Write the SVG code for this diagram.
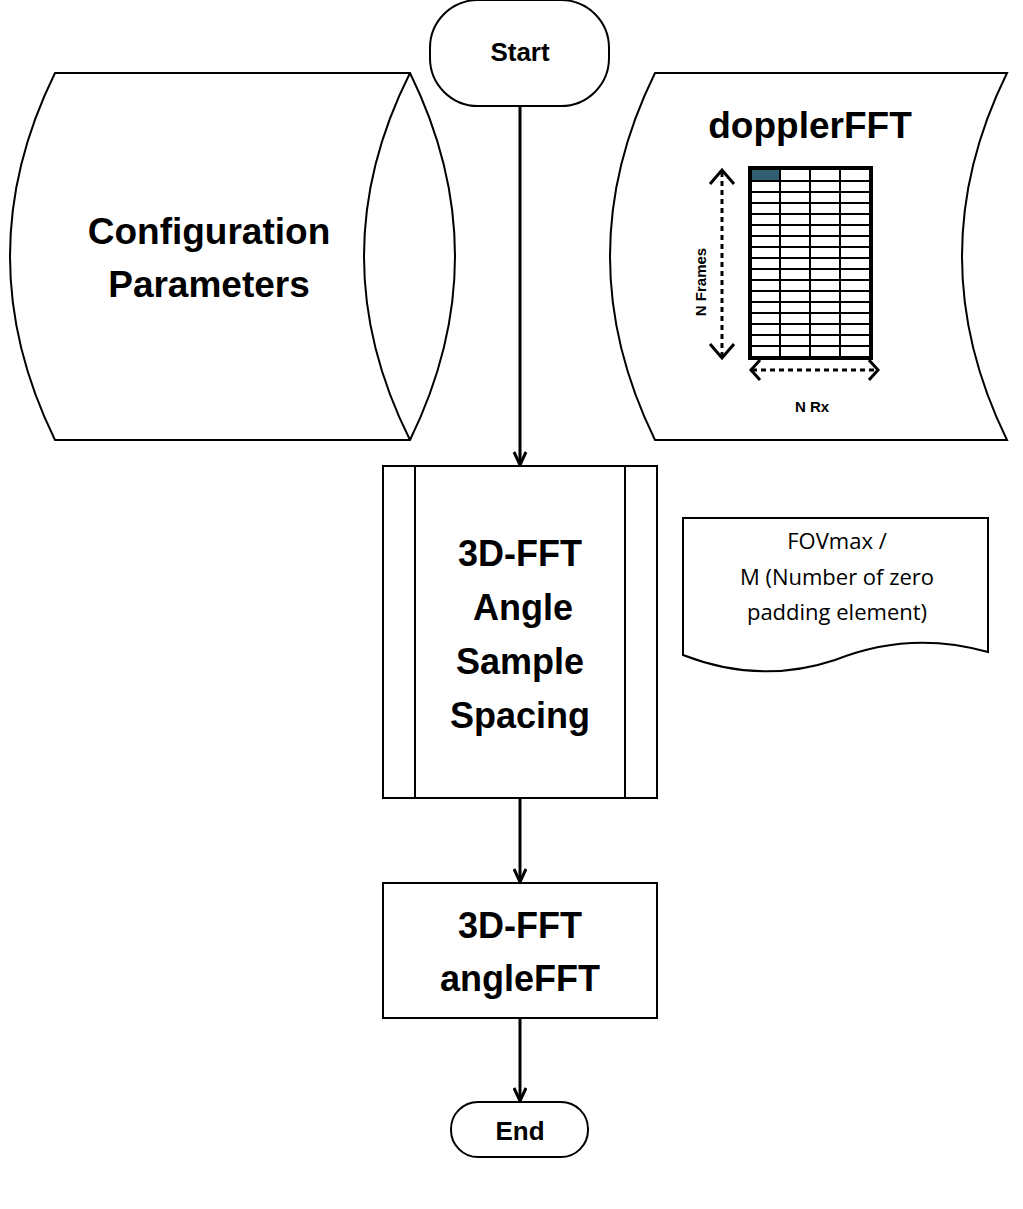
<svg xmlns="http://www.w3.org/2000/svg" width="1023" height="1209" viewBox="0 0 1023 1209">
<style>
.s{fill:#fff;stroke:#000;stroke-width:2}
.t{font-family:"Liberation Sans",Arial,sans-serif;font-weight:bold;text-anchor:middle;fill:#000}
.n{font-family:"Open Sans","Liberation Sans",sans-serif;text-anchor:middle;fill:#000;font-size:22px}
.c{fill:none;stroke:#000;stroke-width:3}
.g{stroke:#000;stroke-width:2}
</style>
<defs>
<marker id="a" markerWidth="20" markerHeight="14" refX="14" refY="7" orient="auto" markerUnits="userSpaceOnUse"><path d="M1,1 L14,7 L1,13" fill="none" stroke="#000" stroke-width="3"/></marker>
</defs>
<rect width="1023" height="1209" fill="#fff"/>
<g id="connectors">
<line class="c" x1="520" y1="106" x2="520" y2="465" marker-end="url(#a)"/>
<line class="c" x1="520" y1="798" x2="520" y2="882" marker-end="url(#a)"/>
<line class="c" x1="520" y1="1018" x2="520" y2="1101" marker-end="url(#a)"/>
</g>
<g id="start"><rect class="s" x="430" y="0" width="179" height="106" rx="48"/><text class="t" x="520" y="61" font-size="26">Start</text></g>
<g id="config">
<path class="s" d="M55,73 L410,73 Q500,256 410,440 L55,440 Q-35,256 55,73 Z"/>
<path class="s" fill="none" d="M410,73 Q318,256 410,440"/>
<text class="t" x="209" y="244" font-size="37">Configuration</text>
<text class="t" x="209" y="297" font-size="37">Parameters</text>
</g>
<g id="doppler">
<path class="s" d="M655,73 L1007,73 Q917,256 1007,440 L655,440 Q565,256 655,73 Z"/>
<text class="t" x="810" y="138" font-size="37">dopplerFFT</text>
<rect x="751" y="170" width="29" height="10" fill="#2e5e70"/>
<rect x="750" y="168" width="121" height="190" fill="none" stroke="#000" stroke-width="4"/>
<g class="g">
<line x1="780" y1="168" x2="780" y2="358"/><line x1="810" y1="168" x2="810" y2="358"/><line x1="840" y1="168" x2="840" y2="358"/>
<line x1="750" y1="181" x2="871" y2="181"/><line x1="750" y1="192" x2="871" y2="192"/><line x1="750" y1="203" x2="871" y2="203"/><line x1="750" y1="214" x2="871" y2="214"/><line x1="750" y1="225" x2="871" y2="225"/><line x1="750" y1="236" x2="871" y2="236"/><line x1="750" y1="247" x2="871" y2="247"/><line x1="750" y1="258" x2="871" y2="258"/><line x1="750" y1="269" x2="871" y2="269"/><line x1="750" y1="280" x2="871" y2="280"/><line x1="750" y1="291" x2="871" y2="291"/><line x1="750" y1="302" x2="871" y2="302"/><line x1="750" y1="313" x2="871" y2="313"/><line x1="750" y1="324" x2="871" y2="324"/><line x1="750" y1="335" x2="871" y2="335"/><line x1="750" y1="346" x2="871" y2="346"/>
</g>
<line x1="722" y1="172" x2="722" y2="356" stroke="#000" stroke-width="3" stroke-dasharray="5,4"/>
<path d="M710,184 L722,170 L734,184 M710,344 L722,358 L734,344" fill="none" stroke="#000" stroke-width="3"/>
<line x1="752" y1="370" x2="876" y2="370" stroke="#000" stroke-width="3" stroke-dasharray="5,4"/>
<path d="M760,360 L751,370 L760,380 M869,360 L878,370 L869,380" fill="none" stroke="#000" stroke-width="3"/>
<text class="t" font-size="15" transform="translate(706,282) rotate(-90)">N Frames</text>
<text class="t" x="812" y="412" font-size="15">N Rx</text>
</g>
<g id="process">
<rect class="s" x="383" y="466" width="274" height="332"/>
<line class="g" x1="415" y1="466" x2="415" y2="798"/><line class="g" x1="625" y1="466" x2="625" y2="798"/>
<text class="t" x="520" y="566" font-size="36">3D-FFT</text>
<text class="t" x="523" y="620" font-size="36">Angle</text>
<text class="t" x="520" y="674" font-size="36">Sample</text>
<text class="t" x="520" y="728" font-size="36">Spacing</text>
</g>
<g id="note">
<path class="s" d="M683,518 L988,518 L988,652 Q910,630 835,660 Q760,685 683,655 Z"/>
<text class="n" x="837" y="549">FOVmax /</text>
<text class="n" x="837" y="585">M (Number of zero</text>
<text class="n" x="837" y="620">padding element)</text>
</g>
<g id="anglefft">
<rect class="s" x="383" y="883" width="274" height="135"/>
<text class="t" x="520" y="938" font-size="36">3D-FFT</text>
<text class="t" x="520" y="991" font-size="36">angleFFT</text>
</g>
<g id="end"><rect class="s" x="451" y="1102" width="137" height="55" rx="27"/><text class="t" x="520" y="1140" font-size="26">End</text></g>
</svg>
